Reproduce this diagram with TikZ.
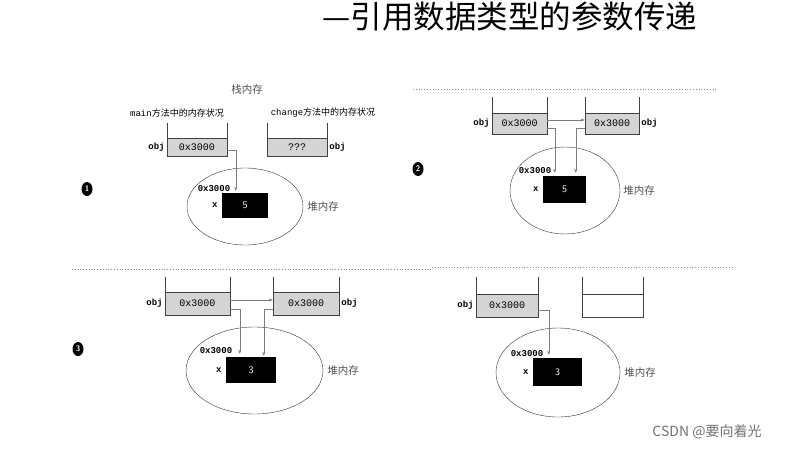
\documentclass[tikz,border=0pt]{standalone}
\usepackage{fontspec}
\setmonofont{Liberation Mono}
\newfontfamily\cjk{Noto Sans CJK SC}
\usepackage{xcolor}
\definecolor{cellgray}{RGB}{212,212,212}
\definecolor{wiregray}{RGB}{125,125,125}
\definecolor{labelgray}{RGB}{80,80,80}
\usetikzlibrary{arrows.meta, positioning, shapes.geometric}
\tikzset{
  cell/.style={draw=black!75, fill=cellgray, inner sep=0pt, font=\ttfamily\fontsize{10}{10}\selectfont},
  valbox/.style={fill=black, text=white, inner sep=0pt, font=\sffamily\fontsize{10}{10}\selectfont},
  heap/.style={draw=black!80, ellipse, inner sep=0pt},
  code/.style={font=\ttfamily\bfseries\fontsize{9}{9}\selectfont, inner sep=1pt},
  cn/.style={font=\cjk\fontsize{10.5}{10.5}\selectfont, text=labelgray, inner sep=0pt},
  ref/.style={draw=wiregray, -{Stealth[length=4pt,width=3pt]}},
  stepnum/.style={ellipse, fill=black, text=white, inner sep=0pt, minimum width=11pt, minimum height=14pt, font=\sffamily\bfseries\fontsize{8}{8}\selectfont},
  sep/.style={draw=black!45, dotted, line width=0.8pt},
}
\begin{document}
\begin{tikzpicture}[x=1pt, y=-1pt, >=Stealth]
    \useasboundingbox (0,0) rectangle (787,451);
    \node[font=\cjk\fontsize{31.5}{31.5}\selectfont] (title) at (510,17) {—引用数据类型的参数传递};

    % step 1
    \node[cn] (stack1) at (247,90) {栈内存};
    \node[font=\fontsize{9}{9}\selectfont, inner sep=0pt] (mainlbl) at (177,113) {\ttfamily main\cjk 方法中的内存状况};
    \node[font=\fontsize{9}{9}\selectfont, inner sep=0pt] (chglbl) at (323,113) {\ttfamily change\cjk 方法中的内存状况};
    \node[cell, minimum width=60, minimum height=18] (m1) at (197,147) {0x3000};
    \node[cell, minimum width=60, minimum height=18] (c1) at (297,147) {???};
    \draw[black!75] (m1.north west) -- ++(0,-15) (m1.north east) -- ++(0,-15);
    \draw[black!75] (c1.north west) -- ++(0,-15) (c1.north east) -- ++(0,-15);
    \node[code, left=1pt of m1] (mobj1) {obj};
    \node[code, right=1pt of c1] (cobj1) {obj};
    \node[heap, minimum width=116, minimum height=77] (heap1) at (245,206.5) {};
    \node[valbox, minimum width=46, minimum height=25] (v1) at (245,205.5) {5};
    \node[code, left=3pt of v1] (x1) {x};
    \node[code] (addr1) at (214,189) {0x3000};
    \node[cn, right=4pt of heap1] (heaplbl1) {堆内存};
    \draw[ref] ([yshift=-3]m1.east) -| ([xshift=14,yshift=2]v1.north west);
    \node[stepnum] (n1) at (87,189) {1};

    \draw[sep] (413,89) -- (717,89);

    % step 2
    \node[cell, minimum width=55, minimum height=21] (m2) at (519.5,123.5) {0x3000};
    \node[cell, minimum width=54, minimum height=21] (c2) at (612,123.5) {0x3000};
    \draw[black!75] (m2.north west) -- ++(0,-16) (m2.north east) -- ++(0,-16);
    \draw[black!75] (c2.north west) -- ++(0,-16) (c2.north east) -- ++(0,-16);
    \node[code, left=1pt of m2] (mobj2) {obj};
    \node[code, right=1pt of c2] (cobj2) {obj};
    \node[heap, minimum width=110, minimum height=87] (heap2) at (565,190.5) {};
    \node[valbox, minimum width=43, minimum height=27] (v2) at (564.5,189.5) {5};
    \node[code, left=3pt of v2] (x2) {x};
    \node[code] (addr2) at (535,171) {0x3000};
    \node[cn, right=3pt of heap2] (heaplbl2) {堆内存};
    \draw[ref] ([yshift=3.5]m2.east) -- ([yshift=3.5]c2.west);
    \draw[ref] ([yshift=-4.5]m2.east) -| ([xshift=12,yshift=3]v2.north west);
    \draw[ref] ([yshift=-4.5]c2.west) -| ([xshift=33,yshift=3]v2.north west);
    \node[stepnum] (n2) at (418,169) {2};

    \draw[sep] (72,269) -- (432,269);
    \draw[sep] (432,267) -- (733,267);

    % step 3
    \node[cell, minimum width=65, minimum height=23] (m3) at (197.5,303.5) {0x3000};
    \node[cell, minimum width=66, minimum height=23] (c3) at (306,303.5) {0x3000};
    \draw[black!75] (m3.north west) -- ++(0,-15) (m3.north east) -- ++(0,-15);
    \draw[black!75] (c3.north west) -- ++(0,-15) (c3.north east) -- ++(0,-15);
    \node[code, left=1pt of m3] (mobj3) {obj};
    \node[code, right=1pt of c3] (cobj3) {obj};
    \node[heap, minimum width=137, minimum height=87] (heap3) at (254.5,370.5) {};
    \node[valbox, minimum width=50, minimum height=26] (v3) at (251,370) {3};
    \node[code, left=3pt of v3] (x3) {x};
    \node[code] (addr3) at (216,351) {0x3000};
    \node[cn, right=4pt of heap3] (heaplbl3) {堆内存};
    \draw[ref] ([yshift=3.5]m3.east) -- ([yshift=3.5]c3.west);
    \draw[ref] ([yshift=-5.5]m3.east) -| ([xshift=14,yshift=3]v3.north west);
    \draw[ref] ([yshift=-5.5]c3.west) -| ([xshift=38,yshift=1]v3.north west);
    \node[stepnum] (n3) at (78,349) {3};

    % step 4
    \node[cell, minimum width=62, minimum height=23] (m4) at (507,305.5) {0x3000};
    \node[draw=black!75, minimum width=61, minimum height=23, inner sep=0pt] (c4) at (612.5,305.5) {};
    \draw[black!75] (c4.north west) -- ++(0,-17) (c4.north east) -- ++(0,-17);
    \draw[black!75] (m4.north west) -- ++(0,-17) (m4.north east) -- ++(0,-17);
    \node[code, left=1pt of m4] (mobj4) {obj};
    \node[heap, minimum width=124, minimum height=89] (heap4) at (558,372.5) {};
    \node[valbox, minimum width=49, minimum height=28] (v4) at (557.5,372) {3};
    \node[code, left=3pt of v4] (x4) {x};
    \node[code] (addr4) at (527,354) {0x3000};
    \node[cn, right=4pt of heap4] (heaplbl4) {堆内存};
    \draw[ref] ([yshift=-4.5]m4.east) -| ([xshift=16,yshift=3]v4.north west);

    \node[font=\cjk\fontsize{14}{14}\selectfont, text=black!55] (mark) at (707,432) {CSDN @要向着光};
\end{tikzpicture}
\end{document}
